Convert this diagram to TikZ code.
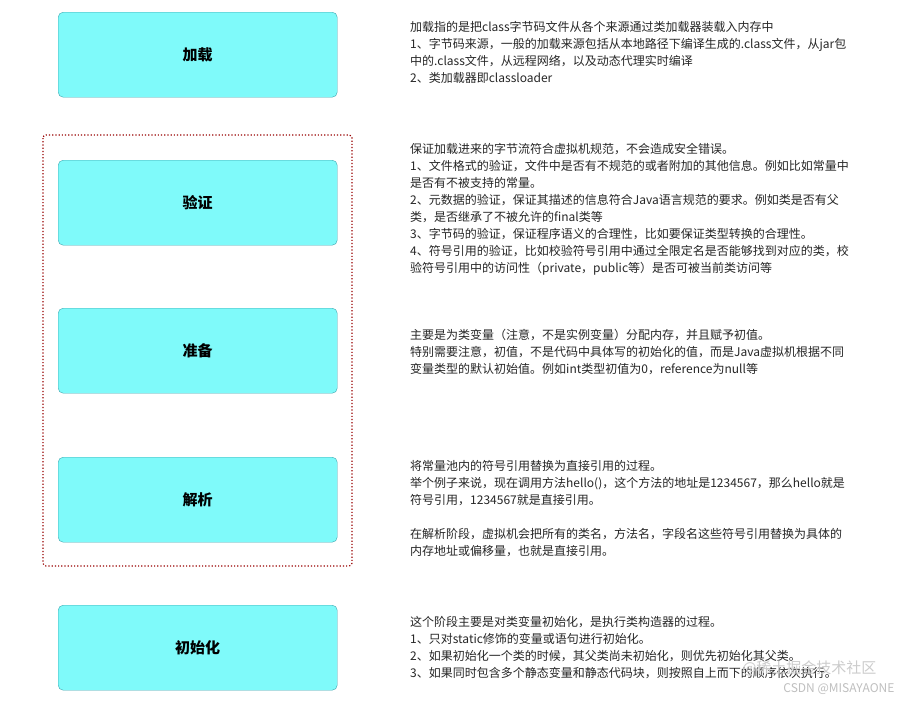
\documentclass[tikz,border=0pt]{standalone}
\usepackage{fontspec}
\setmainfont{Noto Sans CJK SC}
\definecolor{boxfill}{HTML}{7FFAFA}
\definecolor{boxline}{HTML}{3FA6B0}
\begin{document}
\begin{tikzpicture}[x=1pt,y=-1pt,
  stage/.style={draw=boxline,fill=boxfill,rounded corners=5pt,minimum width=279pt,minimum height=85pt,font=\fontsize{15}{18}\selectfont\bfseries,anchor=north west},
  desc/.style={anchor=north west,align=left,font=\fontsize{12}{17}\selectfont,inner sep=0pt,text=black!85}]
\useasboundingbox (0,0) rectangle (900,702);
\fill[white] (0,0) rectangle (900,702);
\node[stage] (s1) at (58,12) {加载};
\node[stage] (s2) at (58,160) {验证};
\node[stage] (s3) at (58,308) {准备};
\node[stage] (s4) at (58,457) {解析};
\node[stage] (s5) at (58,605) {初始化};
\draw[red!60!black,dotted,line width=1.2pt,rounded corners=3pt] (43,135) rectangle (352,566);
\node[desc] (d1) at (410,21) {加载指的是把class字节码文件从各个来源通过类加载器装载入内存中\\1、字节码来源，一般的加载来源包括从本地路径下编译生成的.class文件，从jar包\\中的.class文件，从远程网络，以及动态代理实时编译\\2、类加载器即classloader};
\node[desc] (d2) at (410,143) {保证加载进来的字节流符合虚拟机规范，不会造成安全错误。\\1、文件格式的验证，文件中是否有不规范的或者附加的其他信息。例如比如常量中\\是否有不被支持的常量。\\2、元数据的验证，保证其描述的信息符合Java语言规范的要求。例如类是否有父\\类，是否继承了不被允许的final类等\\3、字节码的验证，保证程序语义的合理性，比如要保证类型转换的合理性。\\4、符号引用的验证，比如校验符号引用中通过全限定名是否能够找到对应的类，校\\验符号引用中的访问性（private，public等）是否可被当前类访问等};
\node[desc] (d3) at (410,329) {主要是为类变量（注意，不是实例变量）分配内存，并且赋予初值。\\特别需要注意，初值，不是代码中具体写的初始化的值，而是Java虚拟机根据不同\\变量类型的默认初始值。例如int类型初值为0，reference为null等};
\node[desc] (d4) at (410,460) {将常量池内的符号引用替换为直接引用的过程。\\举个例子来说，现在调用方法hello()，这个方法的地址是1234567，那么hello就是\\符号引用，1234567就是直接引用。\\[17pt]在解析阶段，虚拟机会把所有的类名，方法名，字段名这些符号引用替换为具体的\\内存地址或偏移量，也就是直接引用。};
\node[desc] (d5) at (410,616) {这个阶段主要是对类变量初始化，是执行类构造器的过程。\\1、只对static修饰的变量或语句进行初始化。\\2、如果初始化一个类的时候，其父类尚未初始化，则优先初始化其父类。\\3、如果同时包含多个静态变量和静态代码块，则按照自上而下的顺序依次执行。};
\node[anchor=east,text=black!20,font=\fontsize{15}{15}\selectfont] (w1) at (880,668) {@稀土掘金技术社区};
\node[anchor=east,text=black!25,font=\fontsize{12}{12}\selectfont] (w2) at (898,689) {CSDN @MISAYAONE};
\end{tikzpicture}
\end{document}
